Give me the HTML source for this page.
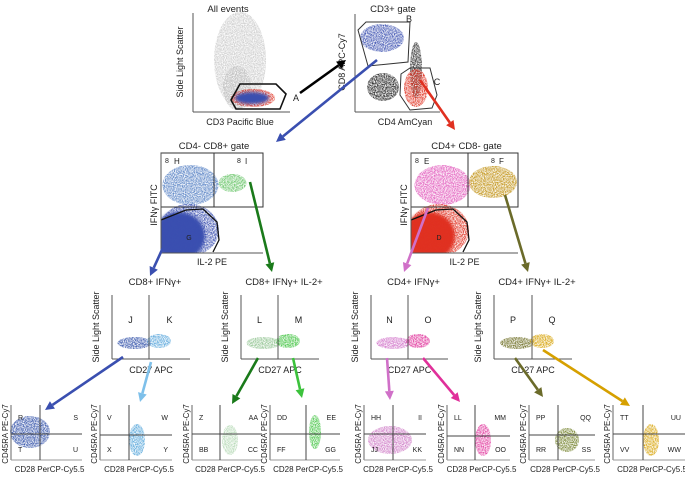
<!DOCTYPE html>
<html><head><meta charset="utf-8"><style>
html,body{margin:0;padding:0;background:#fff}
svg{display:block;font-family:"Liberation Sans",sans-serif}
</style></head><body>
<svg id="fig" width="685" height="477" viewBox="0 0 685 477">
<defs>
<filter id="soft" x="-20%" y="-20%" width="140%" height="140%"><feGaussianBlur stdDeviation="1.5"/></filter>
<filter id="speck" x="-10%" y="-10%" width="120%" height="120%">
<feTurbulence type="fractalNoise" baseFrequency="0.9" numOctaves="1" seed="3" result="n"/>
<feColorMatrix in="n" type="matrix" values="0 0 0 0 0 0 0 0 0 0 0 0 0 0 0 0 0 0 -2.2 1.6" result="m"/>
<feComposite in="SourceGraphic" in2="m" operator="in" result="s"/>
<feGaussianBlur in="s" stdDeviation="0.3"/>
</filter>
<clipPath id="clip-cd8"><rect x="161" y="150" width="110" height="103"/></clipPath>
<clipPath id="clip-cd4"><rect x="411" y="150" width="110" height="103"/></clipPath>
</defs>
<g id="layer"></g>
</svg>
<script>
// Panel definitions (labels / gate names)
const panelTitles = ["All events","CD3+ gate","CD4- CD8+ gate","CD4+ CD8- gate","CD8+ IFNγ+","CD8+ IFNγ+ IL-2+","CD4+ IFNγ+","CD4+ IFNγ+ IL-2+"];
const row3Gates = [["J","K"],["L","M"],["N","O"],["P","Q"]];
const row3Colors = [["#2f4fa8","#5aa7dc"],["#2f8f2f","#3cc23c"],["#d070c8","#e0309a"],["#6b6b1f","#d6a000"]];
const row4Gates = [["R","S","T","U"],["V","W","X","Y"],["Z","AA","BB","CC"],["DD","EE","FF","GG"],["HH","II","JJ","KK"],["LL","MM","NN","OO"],["PP","QQ","RR","SS"],["TT","UU","VV","WW"]];
const row4Colors = ["#2f4fa8","#4aa0d8","#3a9a3a","#3cc23c","#c96cc0","#e0309a","#6b7a1f","#d6a000"];

const NS="http://www.w3.org/2000/svg";
const L=document.getElementById('layer');
function el(tag,attrs,name,parent){const e=document.createElementNS(NS,tag);for(const k in attrs)e.setAttribute(k,attrs[k]);


(parent||L).appendChild(e);return e;}
function txt(x,y,s,name,size,rot,anchor){const t=el('text',{x:x,y:y,'font-size':size||9,fill:'#222','text-anchor':anchor||'middle'},name);
if(rot)t.setAttribute('transform','rotate(-90 '+x+' '+y+')');t.textContent=s;return t;}
function line(x1,y1,x2,y2,name,c,w){return el('line',{x1,y1,x2,y2,stroke:c||'#555','stroke-width':w||1},name);}
function blob(cx,cy,rx,ry,c,name,op,rot,parent){const e=el('ellipse',{cx,cy,rx,ry,fill:c,opacity:op||0.9,filter:'url(#speck)'},name,parent);
if(rot)e.setAttribute('transform','rotate('+rot+' '+cx+' '+cy+')');return e;}
function solid(cx,cy,rx,ry,c,name,parent){return el('ellipse',{cx,cy,rx,ry,fill:c,filter:'url(#soft)'},name,parent);}
function arrow(x1,y1,x2,y2,c,name){
 const g=el('g',{},name);
 const dx=x2-x1,dy=y2-y1,len=Math.hypot(dx,dy),ux=dx/len,uy=dy/len,h=9,w=4.5;
 const bx=x2-ux*h,by=y2-uy*h;
 el('line',{x1,y1,x2:bx,y2:by,stroke:c,'stroke-width':2.6},name+'-shaft',g);
 el('polygon',{points:`${x2},${y2} ${bx-uy*w},${by+ux*w} ${bx+uy*w},${by-ux*w}`,fill:c},name+'-head',g);
}

// ---------- Row 1 ----------
txt(228,12,panelTitles[0],'all-events-title',9.5);
blob(240,60,26,48,'#c8c8c8','all-events-grey-cloud',0.9);
blob(237,88,14,22,'#bdbdbd','all-events-grey-core',0.8);
line(193,13,193,112,'all-events-y-axis','#555');line(193,112,290,112,'all-events-x-axis','#555');
blob(253,98,22,9,'#e03020','gate-a-red-events',0.95);
solid(252,98,17,6,'#3a4fb0','gate-a-blue-events');
el('polygon',{points:'240,84 276,84 286,94 280,109 236,109 231,100',fill:'none',stroke:'#111','stroke-width':1.6},'gate-a-polygon');
txt(296,101,'A','gate-a-label',9);
txt(183,62,'Side Light Scatter','all-events-y-title',9,true);
txt(240,125,'CD3 Pacific Blue','all-events-x-title',9);

txt(393,12,panelTitles[1],'cd3-gate-title',9.5);
line(355,14,355,112,'cd3-y-axis','#555');line(355,112,440,112,'cd3-x-axis','#555');
blob(382,38,22,14,'#3a4fb0','cd8-blue-events',0.95);
blob(383,87,16,14,'#111','double-negative-black-events',0.9);
blob(416,70,6,28,'#111','black-column-events',0.85);
blob(416,88,12,19,'#e03020','cd4-red-events',0.95);
el('polygon',{points:'358,30 366,22 410,22 408,62 368,66',fill:'none',stroke:'#333','stroke-width':1},'gate-b-polygon');
el('polygon',{points:'401,74 410,68 430,68 437,95 432,108 410,110 400,95',fill:'none',stroke:'#333','stroke-width':1},'gate-c-polygon');
txt(409,22,'B','gate-b-label',9);txt(437,85,'C','gate-c-label',9);
txt(345,62,'CD8 APC-Cy7','cd3-y-title',9,true);
txt(405,125,'CD4 AmCyan','cd3-x-title',9);

// ---------- Row 2 ----------
function row2(x0,div,x1,title,cTop1,cTop2,cBot,ql,qr,low,nm){
 txt((x0+x1)/2+2,149,title,nm+'-title',9.5);
 blob((x0+div)/2+3,185,28,20,cTop1,nm+'-ifng-events',0.9);
 if(nm==='cd4') blob((div+x1)/2,182,24,16,cTop2,nm+'-double-positive-events',0.95);
 else blob((div+x1)/2-6,183,14,9,cTop2,nm+'-double-positive-events',0.8);
 const g=el('g',{'clip-path':'url(#clip-'+nm+')'},nm+'-negative-group');
 solid(x0+18,236,26,24,cBot,nm+'-negative-core',g);
 blob(x0+28,230,30,26,cBot,nm+'-negative-events',0.95,0,g);
 el('path',{d:`M${x0},220 L${x0+25},210 L${x0+42},209 L${x0+56},222 L${x0+58},240 L${x0+52},252`,fill:'none',stroke:'#111','stroke-width':1.3},nm+'-gate-low');
 el('rect',{x:x0,y:153,width:div-x0,height:54,fill:'none',stroke:'#333','stroke-width':1},nm+'-gate-left-box');
 el('rect',{x:div,y:153,width:x1-div,height:54,fill:'none',stroke:'#333','stroke-width':1},nm+'-gate-right-box');
 line(x0,153,x0,253,nm+'-y-axis','#555');line(x0,253,x1,253,nm+'-x-axis','#555');
 txt(x0+6,163,'8',nm+'-glyph-left',7);txt(x0+13,164,ql,nm+'-gate-'+ql.toLowerCase()+'-label',8,false,'start');
 txt(div+25,163,'8',nm+'-glyph-right',7);txt(div+31,164,qr,nm+'-gate-'+qr.toLowerCase()+'-label',8,false,'start');
 txt(x0+28,240,low,nm+'-gate-'+low.toLowerCase()+'-label',7);
 txt(x0-4,205,'IFNγ FITC',nm+'-y-title',9,true);
 txt((x0+x1)/2,265,'IL-2 PE',nm+'-x-title',9);
}
row2(161,214,263,panelTitles[2],'#4a78c0','#48b848','#3a4fb0','H','I','G','cd8');
row2(411,468,518,panelTitles[3],'#e050b8','#c09010','#e03020','E','F','D','cd4');

// ---------- Row 3 ----------
const r3 = [[112,149,190],[241,278,319],[371,408,448],[494,532,572]];
r3.forEach((p,i)=>{
 const [x0,d,x1]=p,nm='row3-panel-'+i;
 txt((x0+x1)/2+4,285,panelTitles[4+i],nm+'-title',9.5);
 blob((x0+d)/2+4,343,17,6,row3Colors[i][0],nm+'-left-events',i===1?0.5:0.95);
 blob(d+10,341,12,7,row3Colors[i][1],nm+'-right-events',0.95);
 line(x0,295,x0,359,nm+'-y-axis','#555');line(x0,359,x1,359,nm+'-x-axis','#555');line(d,295,d,359,nm+'-divider','#555');
 txt((x0+d)/2,323,row3Gates[i][0],nm+'-left-label',9);txt((d+x1)/2,323,row3Gates[i][1],nm+'-right-label',9);
 txt(x0-13,327,'Side Light Scatter',nm+'-y-title',9,true);
 txt((x0+x1)/2,373,'CD27 APC',nm+'-x-title',9);
});

// ---------- Row 4 ----------
const r4 = [[11,40,82,434],[100,129,172,435],[192,220,262,434],[270,306,340,434],[364,393,426,434],[447,475,510,436],[529,558,595,435],[613,643,685,434]];
r4.forEach((p,i)=>{
 const [x0,d,x1,h]=p,nm='row4-panel-'+i,c=row4Colors[i];
 if(i===0){blob(30,432,20,16,c,nm+'-events',0.95);}
 else if(i===2){blob(d+10,440,8,15,c,nm+'-events',0.35);}
 else if(i===3){blob(d+9,432,6,17,c,nm+'-events',0.9);}
 else if(i===4){blob(d-3,440,22,14,c,nm+'-events',0.85);}
 else{blob(d+(i===6?9:8),440,i===6?12:8,i===6?12:16,c,nm+'-events',0.9);}
 line(x0,405,x0,460,nm+'-y-axis','#666');line(x0,460,x1,460,nm+'-x-axis','#999');
 line(d,405,d,460,nm+'-v-divider','#444');line(x0,h,x1,h,nm+'-h-divider','#444');
 const g=row4Gates[i];
 txt(x0+7,420,g[0],nm+'-ul-label',7,false,'start');txt(x1-4,420,g[1],nm+'-ur-label',7,false,'end');
 txt(x0+7,452,g[2],nm+'-ll-label',7,false,'start');txt(x1-4,452,g[3],nm+'-lr-label',7,false,'end');
 txt(x0-3,434,'CD45RA PE-Cy7',nm+'-y-title',7.8,true);
 txt((x0+x1)/2+3,472,'CD28 PerCP-Cy5.5',nm+'-x-title',8);
});

// ---------- Arrows ----------
arrow(300,93,346,60,'#000','arrow-to-cd3-gate');
arrow(420,80,455,130,'#e03020','arrow-to-cd4-gate');
arrow(377,60,276,142,'#3a4fb0','arrow-to-cd8-gate');
arrow(177,217,150,276,'#3a4fb0','arrow-to-cd8-ifng');
arrow(250,182,272,272,'#1a7a1a','arrow-to-cd8-ifng-il2');
arrow(428,208,404,272,'#d070c8','arrow-to-cd4-ifng');
arrow(505,195,528,272,'#6b6b2a','arrow-to-cd4-ifng-il2');
arrow(123,357,45,410,'#3a4fb0','arrow-to-panel-r');
arrow(151,362,140,402,'#7ec0ea','arrow-to-panel-v');
arrow(258,358,232,404,'#1a7a1a','arrow-to-panel-z');
arrow(293,358,302,398,'#3cc23c','arrow-to-panel-dd');
arrow(387,358,390,400,'#d070c8','arrow-to-panel-hh');
arrow(423,358,460,402,'#e0309a','arrow-to-panel-ll');
arrow(515,358,543,397,'#6b6b2a','arrow-to-panel-pp');
arrow(543,350,630,406,'#d6a000','arrow-to-panel-tt');
</script>
</body></html>
